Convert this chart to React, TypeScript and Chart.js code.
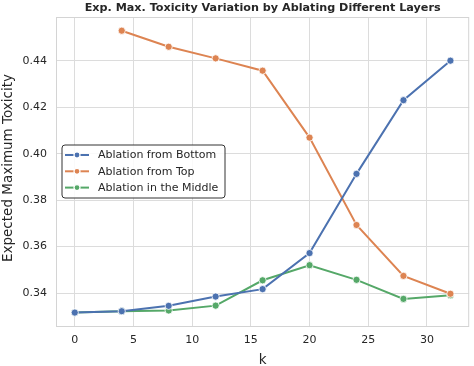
import React, { useEffect, useRef } from "react";
import { Chart, registerables } from "chart.js";

Chart.register(...registerables);

const kValues = [0, 4, 8, 12, 16, 20, 24, 28, 32];
const bottomSeries = [0.3316, 0.3322, 0.3345, 0.3385, 0.3417, 0.3572, 0.3913, 0.423, 0.44];
const topSeries = [null, 0.4529, 0.446, 0.441, 0.4357, 0.4069, 0.3693, 0.3474, 0.3397];
const middleSeries = [0.3316, 0.3322, 0.3325, 0.3346, 0.3455, 0.352, 0.3457, 0.3375, 0.3391];
const seriesNames = ["Ablation from Bottom", "Ablation from Top", "Ablation in the Middle"];
const seriesColors = ["#4C72B0", "#DD8452", "#55A868"];
const xTicks = [0, 5, 10, 15, 20, 25, 30];
const yTicks = [0.34, 0.36, 0.38, 0.4, 0.42, 0.44];
const titleText = "Exp. Max. Toxicity Variation by Ablating Different Layers";
const xTitle = "k";
const yTitle = "Expected Maximum Toxicity";

const FONT = "'DejaVu Sans', sans-serif";

const decorPlugin = {
  id: "decor",
  beforeDatasetsDraw(chart: any) {
    const { ctx, chartArea } = chart;
    ctx.save();
    ctx.strokeStyle = "#d4d4d4";
    ctx.lineWidth = 1;
    ctx.strokeRect(chartArea.left + 0.5, chartArea.top + 0.5, chartArea.right - chartArea.left - 1, chartArea.bottom - chartArea.top - 1);
    ctx.restore();
  },
  afterDraw(chart: any) {
    const { ctx, chartArea } = chart;
    ctx.save();
    // title
    ctx.fillStyle = "#262626";
    ctx.font = `bold 11.2px ${FONT}`;
    ctx.textAlign = "center";
    ctx.textBaseline = "middle";
    ctx.fillText(titleText, (chartArea.left + chartArea.right) / 2, 8);
    // x title
    ctx.font = `13.5px ${FONT}`;
    ctx.fillText(xTitle, (chartArea.left + chartArea.right) / 2, 360);
    // y title
    ctx.save();
    ctx.translate(8, (chartArea.top + chartArea.bottom) / 2 - 4);
    ctx.rotate(-Math.PI / 2);
    ctx.fillText(yTitle, 0, 0);
    ctx.restore();

    // legend
    const lx = 62, ly = 145, lw = 163, lh = 53;
    ctx.fillStyle = "rgba(255,255,255,0.85)";
    ctx.strokeStyle = "#333333";
    ctx.lineWidth = 1;
    ctx.beginPath();
    const r = 3;
    ctx.moveTo(lx + r, ly);
    ctx.lineTo(lx + lw - r, ly);
    ctx.quadraticCurveTo(lx + lw, ly, lx + lw, ly + r);
    ctx.lineTo(lx + lw, ly + lh - r);
    ctx.quadraticCurveTo(lx + lw, ly + lh, lx + lw - r, ly + lh);
    ctx.lineTo(lx + r, ly + lh);
    ctx.quadraticCurveTo(lx, ly + lh, lx, ly + lh - r);
    ctx.lineTo(lx, ly + r);
    ctx.quadraticCurveTo(lx, ly, lx + r, ly);
    ctx.closePath();
    ctx.fill();
    ctx.stroke();
    ctx.font = `11px ${FONT}`;
    ctx.textAlign = "left";
    seriesNames.forEach((name, i) => {
      const y = ly + 10 + i * 16.3;
      ctx.strokeStyle = seriesColors[i];
      ctx.lineWidth = 2;
      ctx.beginPath();
      ctx.moveTo(lx + 3, y);
      ctx.lineTo(lx + 27, y);
      ctx.stroke();
      ctx.fillStyle = seriesColors[i];
      ctx.strokeStyle = "#ffffff";
      ctx.lineWidth = 1.2;
      ctx.beginPath();
      ctx.arc(lx + 15, y, 3, 0, Math.PI * 2);
      ctx.fill();
      ctx.stroke();
      ctx.fillStyle = "#262626";
      ctx.fillText(name, lx + 36, y + 0.5);
    });
    ctx.restore();
  },
};

export default function App() {
  const ref = useRef<HTMLCanvasElement>(null);
  useEffect(() => {
    document.body.style.margin = "0";
    const canvas = ref.current!;
    const mk = (data: (number | null)[], i: number) => ({
      label: seriesNames[i],
      data: kValues.map((k, j) => ({ x: k, y: data[j] })),
      borderColor: seriesColors[i],
      backgroundColor: seriesColors[i],
      pointBackgroundColor: seriesColors[i],
      pointBorderColor: "#ffffff",
      pointBorderWidth: 0.8,
      pointRadius: 3.6,
      borderWidth: 2,
      tension: 0,
      spanGaps: false,
    });
    const chart = new Chart(canvas, {
      type: "line",
      data: {
        datasets: [mk(bottomSeries, 0), mk(topSeries, 1), mk(middleSeries, 2)],
      },
      plugins: [decorPlugin],
      options: {
        animation: false,
        responsive: false,
        layout: { padding: { left: 0, right: 2, top: 17, bottom: 0 } },
        plugins: { legend: { display: false }, tooltip: { enabled: false }, title: { display: false } },
        scales: {
          x: {
            type: "linear",
            min: -1.6,
            max: 33.6,
            afterBuildTicks: (s: any) => {
              s.ticks = xTicks.map((v) => ({ value: v }));
            },
            afterFit: (s: any) => {
              s.height = 39;
            },
            grid: { color: "#dcdcdc", lineWidth: 1, drawTicks: false },
            border: { display: false },
            ticks: {
              padding: 7,
              color: "#262626",
              font: { family: FONT, size: 11 },
              callback: (v: any) => String(v),
            },
          },
          y: {
            type: "linear",
            min: 0.3254,
            max: 0.4588,
            afterBuildTicks: (s: any) => {
              s.ticks = yTicks.map((v) => ({ value: v }));
            },
            afterFit: (s: any) => {
              s.width = 56;
            },
            grid: { color: "#dcdcdc", lineWidth: 1, drawTicks: false },
            border: { display: false },
            ticks: {
              padding: 9,
              color: "#262626",
              font: { family: FONT, size: 11 },
              callback: (v: any) => Number(v).toFixed(2),
            },
          },
        },
      },
    });
    return () => chart.destroy();
  }, []);
  return (
    <div style={{ position: "absolute", left: 0, top: 0, width: 474, height: 366 }}>
      <canvas ref={ref} width={474} height={366} style={{ width: 474, height: 366, display: "block" }} />
    </div>
  );
}
